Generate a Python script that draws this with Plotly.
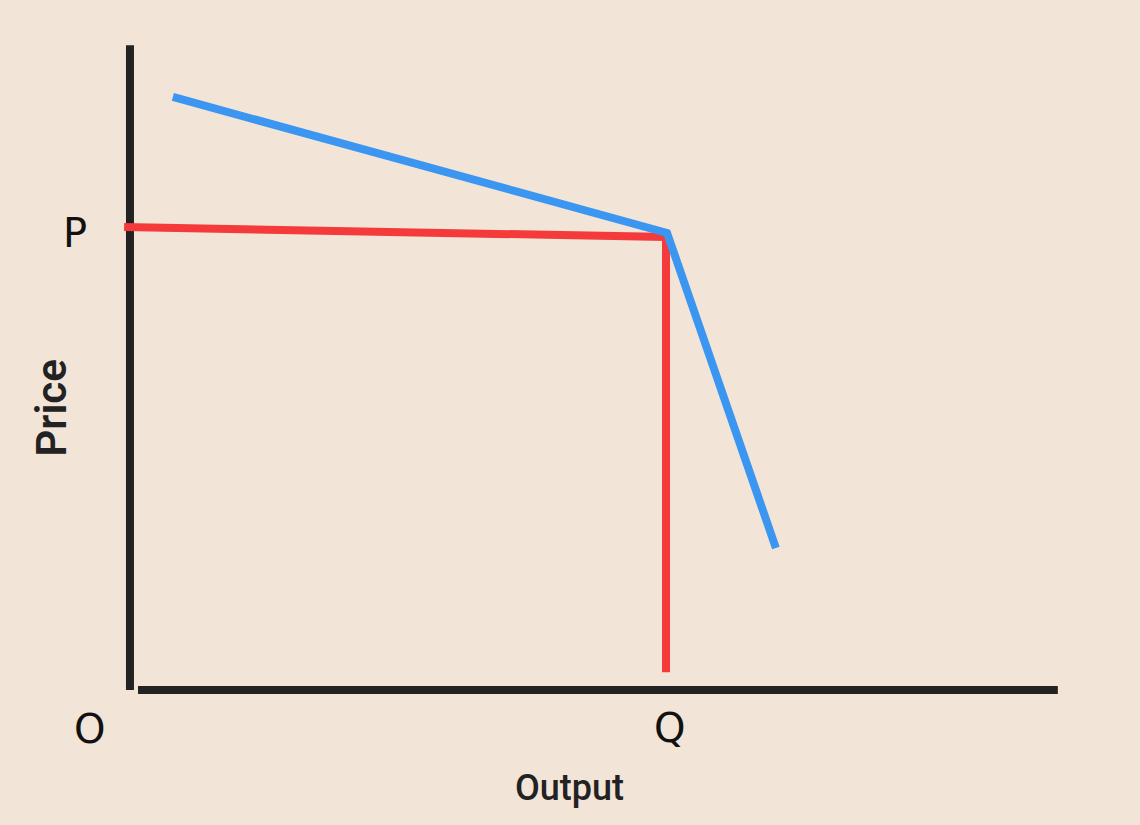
import plotly.graph_objects as go

# Data (in chart units: origin O at 0,0; kink at Q=10, P=10)
blue_x = [0.80, 10.02, 12.05]
blue_y = [12.95, 9.98, 3.10]
red_x = [-0.11, 10.0, 10.0]
red_y = [10.11, 9.89, 0.39]
yaxis_x = [0.0, 0.0]
yaxis_y = [0.0, 14.08]
xaxis_x = [0.15, 17.31]
xaxis_y = [0.0, 0.0]

label_text = ["O", "Q", "P"]
label_x = [-0.75, 10.07, -1.03]
label_y = [-0.85, -0.83, 9.97]

BG = "#F3E4D8"
fig = go.Figure()
fig.add_trace(go.Scatter(x=yaxis_x, y=yaxis_y, mode="lines",
                         line=dict(color="#222222", width=8), hoverinfo="skip"))
fig.add_trace(go.Scatter(x=xaxis_x, y=xaxis_y, mode="lines",
                         line=dict(color="#222222", width=8), hoverinfo="skip"))
fig.add_trace(go.Scatter(x=red_x, y=red_y, mode="lines",
                         line=dict(color="#F43A3A", width=8)))
fig.add_trace(go.Scatter(x=blue_x, y=blue_y, mode="lines",
                         line=dict(color="#3A96F0", width=8)))

for t, lx, ly in zip(label_text, label_x, label_y):
    fig.add_annotation(x=lx, y=ly, text=t, showarrow=False,
                       font=dict(family="DejaVu Sans", size=40, color="#111111"))

fig.add_annotation(x=8.2, y=-2.14, text="Output", showarrow=False,
                   font=dict(family="Roboto", size=36, color="#222222", weight=500))
fig.add_annotation(x=-1.46, y=6.16, text="Price", showarrow=False, textangle=-90,
                   font=dict(family="Roboto", size=42, color="#222222", weight=600))

fig.update_layout(
    width=1140, height=825,
    margin=dict(l=0, r=0, t=0, b=0),
    paper_bgcolor=BG, plot_bgcolor=BG,
    showlegend=False,
    xaxis=dict(range=[-2.425, 18.843], visible=False, fixedrange=True),
    yaxis=dict(range=[-2.948, 15.066], visible=False, fixedrange=True),
)
fig.write_html("out.html", config={"displayModeBar": False},
               post_script="document.body.style.margin='0';document.body.style.background='#F3E4D8';")
